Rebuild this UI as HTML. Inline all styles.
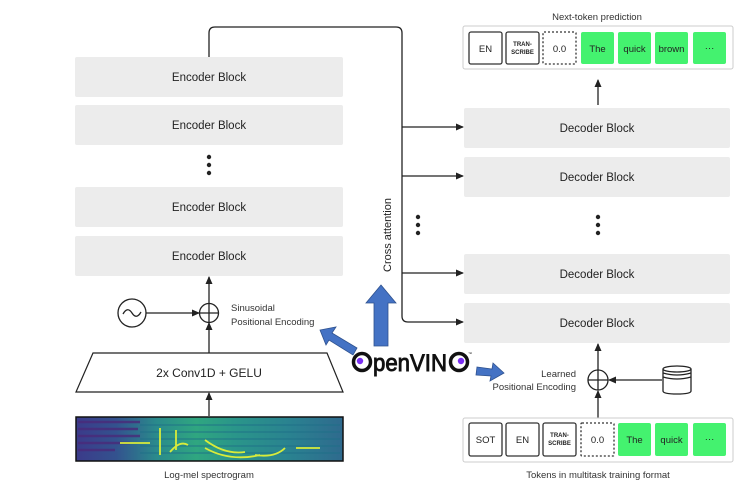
<!DOCTYPE html>
<html><head><meta charset="utf-8"><style>
html,body{margin:0;padding:0;background:#fff;}
svg{display:block;font-family:"Liberation Sans",sans-serif;}
</style></head><body>
<svg width="739" height="496" viewBox="0 0 739 496" xmlns="http://www.w3.org/2000/svg">
<defs>
<marker id="ah" markerWidth="8" markerHeight="8" refX="7" refY="4" orient="auto" markerUnits="userSpaceOnUse">
<path d="M0,0.5 L8,4 L0,7.5 Z" fill="#222"/></marker>
<linearGradient id="sp" x1="0" x2="1">
<stop offset="0" stop-color="#3b3a8a"/><stop offset="0.15" stop-color="#33528e"/><stop offset="0.3" stop-color="#2a8a8c"/><stop offset="0.45" stop-color="#2fa680"/><stop offset="0.6" stop-color="#2a958a"/><stop offset="0.8" stop-color="#2a8290"/><stop offset="1" stop-color="#2f6a8e"/></linearGradient>
</defs>
<g fill="#ececec">
<rect x="75" y="57" width="268" height="40" rx="2"/>
<rect x="75" y="105" width="268" height="40" rx="2"/>
<rect x="75" y="187" width="268" height="40" rx="2"/>
<rect x="75" y="236" width="268" height="40" rx="2"/>
<rect x="464" y="108" width="266" height="40" rx="2"/>
<rect x="464" y="157" width="266" height="40" rx="2"/>
<rect x="464" y="254" width="266" height="40" rx="2"/>
<rect x="464" y="303" width="266" height="40" rx="2"/>
</g>
<g font-size="11.5" fill="#222" text-anchor="middle">
<text x="209" y="81">Encoder Block</text>
<text x="209" y="129">Encoder Block</text>
<text x="209" y="211">Encoder Block</text>
<text x="209" y="260">Encoder Block</text>
<text x="597" y="132">Decoder Block</text>
<text x="597" y="181">Decoder Block</text>
<text x="597" y="278">Decoder Block</text>
<text x="597" y="327">Decoder Block</text>
</g>
<g fill="#222">
<circle cx="209" cy="157" r="2.2"/><circle cx="209" cy="165" r="2.2"/><circle cx="209" cy="173" r="2.2"/>
<circle cx="418" cy="217" r="2.2"/><circle cx="418" cy="225" r="2.2"/><circle cx="418" cy="233" r="2.2"/>
<circle cx="598" cy="217" r="2.2"/><circle cx="598" cy="225" r="2.2"/><circle cx="598" cy="233" r="2.2"/>
</g>
<g stroke="#222" stroke-width="1.3" fill="none">
<path d="M209,57 V33 Q209,27 215,27 H396 Q402,27 402,33 V316 Q402,322 408,322 H463" marker-end="url(#ah)"/>
<path d="M402,127 H463" marker-end="url(#ah)"/>
<path d="M402,176 H463" marker-end="url(#ah)"/>
<path d="M402,273 H463" marker-end="url(#ah)"/>
<path d="M209,304 V277" marker-end="url(#ah)"/>
<path d="M209,353 V323" marker-end="url(#ah)"/>
<path d="M209,416 V393" marker-end="url(#ah)"/>
<path d="M146,313 H199" marker-end="url(#ah)"/>
<circle cx="209" cy="313" r="9.5"/>
<path d="M199.5,313 H218.5 M209,303.5 V322.5"/>
<circle cx="132" cy="313" r="14"/>
<path d="M123,314 Q127.5,306 132,313 Q136.5,320 141,312"/>
<path d="M93,353 H327 L343,392 H76 Z" stroke-width="1.2"/>
<path d="M598,370 V344" marker-end="url(#ah)"/>
<path d="M598,418 V391" marker-end="url(#ah)"/>
<path d="M662,380 H609" marker-end="url(#ah)"/>
<circle cx="598" cy="380" r="10"/>
<path d="M588,380 H608 M598,370 V390"/>
<path d="M598,105 V80" marker-end="url(#ah)"/>
<path d="M663,369 V391 Q663,394 677,394 Q691,394 691,391 V369"/>
<ellipse cx="677" cy="369" rx="14" ry="3"/>
<path d="M663,373 Q677,377 691,373 M663,377 Q677,381 691,377"/>
</g>
<text x="231" y="311" font-size="9.5" fill="#333">Sinusoidal</text>
<text x="231" y="325" font-size="9.5" fill="#333">Positional Encoding</text>
<text x="576" y="377" font-size="9.5" fill="#333" text-anchor="end">Learned</text>
<text x="576" y="390" font-size="9.5" fill="#333" text-anchor="end">Positional Encoding</text>
<text x="209" y="377" font-size="12" fill="#222" text-anchor="middle">2x Conv1D + GELU</text>
<rect x="76" y="417" width="267" height="44" fill="url(#sp)"/>
<g stroke="#4a2a7a" stroke-width="2.5" opacity="0.8"><path d="M78,422 H140 M78,429 H138 M78,436 H140 M78,443 H130 M78,450 H115"/></g>
<g stroke="#1f6f88" stroke-width="1.2" opacity="0.7"><path d="M140,425 H340 M140,432 H340 M140,439 H340 M140,446 H340 M140,453 H340"/></g>
<g stroke="#d8ec3a" stroke-width="1.8" fill="none">
<path d="M170,452 Q180,440 188,445 M205,440 Q225,455 245,452 M205,448 Q230,462 260,455 M255,455 Q275,458 285,448 M120,443 H150 M160,428 V455 M176,430 V450 M296,448 H320"/>
</g>
<rect x="76" y="417" width="267" height="44" fill="none" stroke="#111" stroke-width="1.5"/>
<text x="209" y="478" font-size="9.5" fill="#333" text-anchor="middle">Log-mel spectrogram</text>
<text x="597" y="20" font-size="9.5" fill="#333" text-anchor="middle">Next-token prediction</text>
<text x="598" y="478" font-size="9.5" fill="#333" text-anchor="middle">Tokens in multitask training format</text>
<rect x="463" y="26" width="270" height="43" rx="2" fill="#fff" stroke="#ccc"/>
<rect x="463" y="418" width="270" height="44" rx="2" fill="#fff" stroke="#ccc"/>
<g stroke="#333" stroke-width="1.3" fill="#fff">
<rect x="469" y="32" width="33" height="32" rx="2"/>
<rect x="506" y="32" width="33" height="32" rx="2"/>
<rect x="543" y="32" width="33" height="32" rx="1" stroke-dasharray="2,2"/>
<rect x="469" y="423" width="33" height="33" rx="2"/>
<rect x="506" y="423" width="33" height="33" rx="2"/>
<rect x="543" y="423" width="33" height="33" rx="2"/>
<rect x="581" y="423" width="33" height="33" rx="1" stroke-dasharray="2,2"/>
</g>
<g fill="#44f26f">
<rect x="581" y="32" width="33" height="32" rx="2"/>
<rect x="618" y="32" width="33" height="32" rx="2"/>
<rect x="655" y="32" width="33" height="32" rx="2"/>
<rect x="693" y="32" width="33" height="32" rx="2"/>
<rect x="618" y="423" width="33" height="33" rx="2"/>
<rect x="655" y="423" width="33" height="33" rx="2"/>
<rect x="693" y="423" width="33" height="33" rx="2"/>
</g>
<g font-size="9.5" fill="#222" text-anchor="middle">
<text x="485.5" y="52">EN</text>
<text x="559.5" y="52">0.0</text>
<text x="597.5" y="52">The</text>
<text x="634.5" y="52">quick</text>
<text x="671.5" y="52">brown</text>
<text x="709.5" y="51">···</text>
<text x="485.5" y="443">SOT</text>
<text x="522.5" y="443">EN</text>
<text x="597.5" y="443">0.0</text>
<text x="634.5" y="443">The</text>
<text x="671.5" y="443">quick</text>
<text x="709.5" y="442">···</text>
</g>
<g font-size="6" font-weight="bold" fill="#222" text-anchor="middle">
<text x="522.5" y="46">TRAN-</text><text x="522.5" y="54">SCRIBE</text>
<text x="559.5" y="437">TRAN-</text><text x="559.5" y="445">SCRIBE</text>
</g>
<text transform="translate(391,272) rotate(-90)" font-size="11" fill="#222">Cross attention</text>
<g fill="#4472c4" stroke="#2f528f" stroke-width="0.8">
<path d="M374,346 V303 H366 L381,285 L396,303 H388 V346 Z"/>
<path d="M357,348 L332,333 L336,327 L320,330 L326,345 L329,340 L353,355 Z"/>
<path d="M477,367 L492,369 L493,363 L504,373 L490,381 L491,376 L476,375 Z"/>
</g>
<circle cx="362" cy="362" r="8.5" fill="none" stroke="#111" stroke-width="3.5"/>
<circle cx="360" cy="361" r="3.2" fill="#7b2ff2"/>
<text x="373" y="371" font-size="24" fill="#111" stroke="#111" stroke-width="0.9" textLength="74" lengthAdjust="spacingAndGlyphs">penVIN</text>
<circle cx="459" cy="362" r="8.5" fill="none" stroke="#111" stroke-width="3.5"/>
<circle cx="461" cy="361" r="3.2" fill="#7b2ff2"/>
<text x="468" y="355" font-size="4" fill="#111">™</text>
</svg>
</body></html>
